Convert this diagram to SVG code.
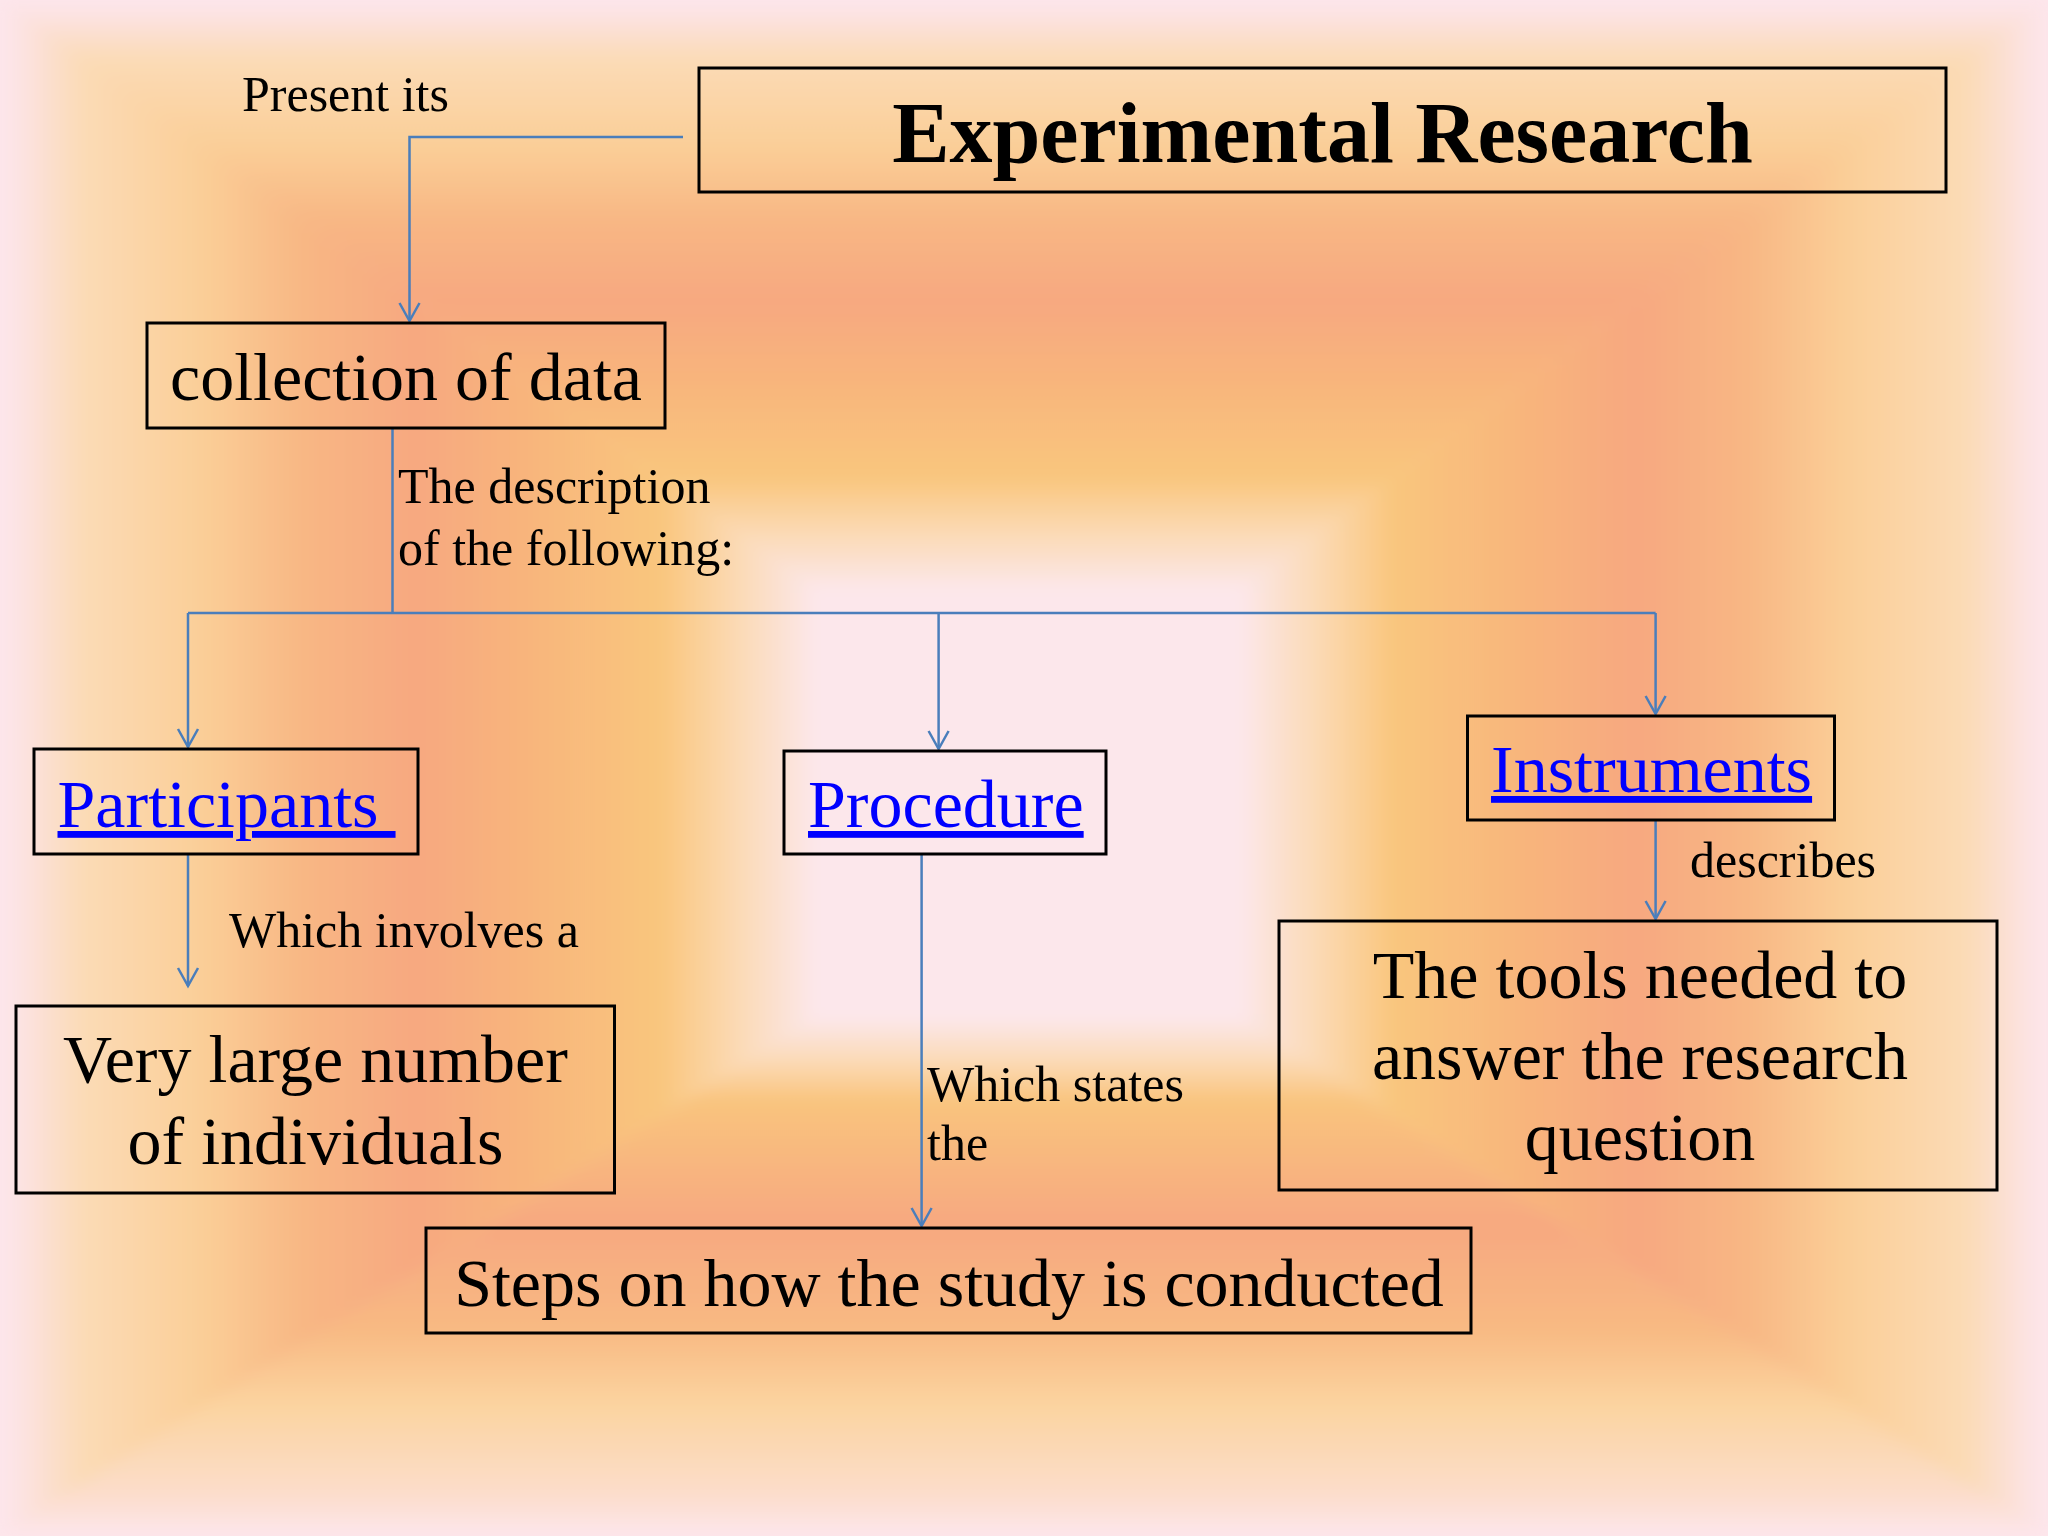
<svg xmlns="http://www.w3.org/2000/svg" xmlns:xlink="http://www.w3.org/1999/xlink" width="2048" height="1536" viewBox="0 0 2048 1536">
<defs>
<style>
.box{fill:none;stroke:#000;stroke-width:3}
.t{font-family:"Liberation Serif","Times New Roman",serif;fill:#000}
.lbl{font-size:50px}
.bt{font-size:68px}
.ttl{font-size:86px;font-weight:bold}
.link{fill:#0000FF;text-decoration:underline}
.conn{fill:none;stroke:#4A7EBB;stroke-width:2.5}
</style>
<linearGradient id="gL" gradientUnits="userSpaceOnUse" x1="0" y1="0" x2="816" y2="0">
<stop offset="0" stop-color="#FDE6EC"/><stop offset="0.03" stop-color="#FCE2E0"/><stop offset="0.1" stop-color="#FBDBB6"/><stop offset="0.25" stop-color="#FACE97"/><stop offset="0.37" stop-color="#F8B784"/><stop offset="0.51" stop-color="#F7A880"/><stop offset="0.64" stop-color="#F8B47C"/><stop offset="0.81" stop-color="#F9C67D"/><stop offset="0.91" stop-color="#FBDBB8"/><stop offset="1" stop-color="#FCE7EB"/>
</linearGradient>
<linearGradient id="gR" xlink:href="#gL" gradientUnits="userSpaceOnUse" x1="2048" y1="0" x2="1240" y2="0"/>
<linearGradient id="gT" xlink:href="#gL" gradientUnits="userSpaceOnUse" x1="0" y1="0" x2="0" y2="590"/>
<linearGradient id="gB" gradientUnits="userSpaceOnUse" x1="0" y1="1536" x2="0" y2="1018">
<stop offset="0" stop-color="#FDE6EC"/><stop offset="0.08" stop-color="#FCDDCB"/><stop offset="0.25" stop-color="#FBD4A0"/><stop offset="0.4" stop-color="#F8B982"/><stop offset="0.6" stop-color="#F7A880"/><stop offset="0.84" stop-color="#F9C47D"/><stop offset="0.92" stop-color="#FBDBB8"/><stop offset="1" stop-color="#FCE7EB"/>
</linearGradient>
<filter id="soft" x="-5%" y="-5%" width="110%" height="110%">
<feGaussianBlur stdDeviation="8"/>
</filter>
<marker id="arr" markerUnits="userSpaceOnUse" viewBox="0 0 22 22" refX="20" refY="11" markerWidth="22" markerHeight="22" orient="auto" overflow="visible">
<path d="M2,1 L20,11 L2,21" fill="none" stroke="#4A7EBB" stroke-width="2.5"/>
</marker>
</defs>

<rect x="0" y="0" width="2048" height="1536" fill="#FDE6EC"/>
<g id="background" filter="url(#soft)">
<rect x="0" y="0" width="2048" height="1536" fill="#FCE7EB"/>
<polygon points="0,0 816,590 816,1018 0,1536" fill="url(#gL)"/>
<polygon points="2048,0 1240,590 1240,1018 2048,1536" fill="url(#gR)"/>
<polygon points="0,0 2048,0 1240,590 816,590" fill="url(#gT)"/>
<polygon points="0,1536 2048,1536 1240,1018 816,1018" fill="url(#gB)"/>
</g>

<g id="connectors">
<path class="conn" d="M683,137 H409.5 V321" marker-end="url(#arr)"/>
<path class="conn" d="M392.5,428 V613"/>
<path class="conn" d="M188,613 H1655.6"/>
<path class="conn" d="M188,613 V747" marker-end="url(#arr)"/>
<path class="conn" d="M938.6,613 V749" marker-end="url(#arr)"/>
<path class="conn" d="M1655.6,613 V714" marker-end="url(#arr)"/>
<path class="conn" d="M188,854 V986" marker-end="url(#arr)"/>
<path class="conn" d="M921.6,854 V1226" marker-end="url(#arr)"/>
<path class="conn" d="M1655.6,820 V919" marker-end="url(#arr)"/>
</g>

<g id="labels">
<text class="t lbl" x="242" y="111">Present its</text>
<text class="t lbl" x="398" y="503">The description</text>
<text class="t lbl" x="398" y="565">of the following:</text>
<text class="t lbl" x="229" y="947">Which involves a</text>
<text class="t lbl" x="927" y="1101">Which states</text>
<text class="t lbl" x="927" y="1160">the</text>
<text class="t lbl" x="1690" y="877">describes</text>
</g>

<g id="node-title">
<rect class="box" x="699" y="68" width="1247" height="124"/>
<text class="t ttl" x="1322.5" y="162" text-anchor="middle">Experimental Research</text>
</g>

<g id="node-collection">
<rect class="box" x="147" y="323" width="518" height="105"/>
<text class="t bt" x="406" y="400" text-anchor="middle">collection of data</text>
</g>

<g id="node-participants">
<rect class="box" x="34" y="749" width="384" height="105"/>
<text class="t bt link" x="57.5" y="827" xml:space="preserve">Participants </text>
</g>

<g id="node-procedure">
<rect class="box" x="784" y="751" width="322" height="103"/>
<text class="t bt link" x="808" y="827">Procedure</text>
</g>

<g id="node-instruments">
<rect class="box" x="1467.5" y="716" width="367" height="104"/>
<text class="t bt link" x="1491" y="792">Instruments</text>
</g>

<g id="node-individuals">
<rect class="box" x="16" y="1006" width="598.5" height="187"/>
<text class="t bt" x="315.5" y="1082" text-anchor="middle">Very large number</text>
<text class="t bt" x="315.5" y="1164" text-anchor="middle">of individuals</text>
</g>

<g id="node-steps">
<rect class="box" x="426" y="1228" width="1045" height="105"/>
<text class="t bt" x="949" y="1306" text-anchor="middle">Steps on how the study is conducted</text>
</g>

<g id="node-tools">
<rect class="box" x="1279" y="921" width="718" height="269"/>
<text class="t bt" x="1640" y="998" text-anchor="middle">The tools needed to</text>
<text class="t bt" x="1640" y="1079" text-anchor="middle">answer the research</text>
<text class="t bt" x="1640" y="1160" text-anchor="middle">question</text>
</g>
</svg>
